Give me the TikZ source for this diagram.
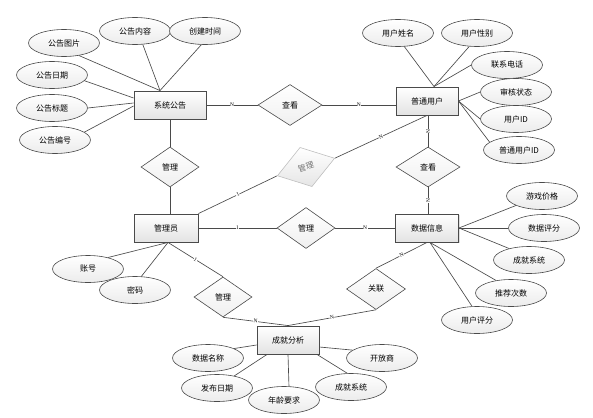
\documentclass[tikz,border=0pt]{standalone}
\usepackage{fontspec}
\setmainfont{Noto Sans CJK SC}
\newfontfamily\lblfont{Liberation Serif}
\usetikzlibrary{shapes.geometric, shadows}

\definecolor{edgegray}{HTML}{4A4A4A}
\tikzset{
  entity/.style={rectangle, draw=edgegray, line width=0.9pt, top color=white, bottom color=gray!22,
    minimum width=63pt, minimum height=28pt, inner sep=0pt,
    drop shadow={opacity=0.25, shadow xshift=1pt, shadow yshift=-1pt}},
  relation/.style={diamond, draw=edgegray, line width=0.6pt, top color=white, bottom color=gray!12,
    minimum width=60pt, minimum height=41pt, inner sep=0pt},
  attr/.style={ellipse, draw=edgegray, line width=0.6pt, top color=white, bottom color=gray!15,
    minimum width=71pt, minimum height=27pt, inner sep=0pt},
  link/.style={draw=edgegray, line width=0.65pt},
  card/.style={font=\lblfont\fontsize{5.5}{6}\selectfont, fill=white, inner sep=0.4pt, sloped}
}

\begin{document}
\begin{tikzpicture}[x=1pt, y=-1pt, font=\fontsize{8}{9}\selectfont]
  \useasboundingbox (0,0) rectangle (593,417);

  % entities
  \node[entity, minimum width=72pt] (xtgg) at (170,105) {系统公告};
  \node[entity, minimum width=62pt] (ptyh) at (427,101) {普通用户};
  \node[entity, minimum width=64pt] (gly)  at (166,228) {管理员};
  \node[entity] (sjxx) at (427,228) {数据信息};
  \node[entity, minimum width=62pt] (cjfx) at (288,340) {成就分析};

  % relations
  \node[relation, minimum width=64pt] (ckA) at (290,105) {查看};
  \node[relation, minimum width=58pt, minimum height=40pt] (glA) at (170,167) {管理};
  \node[relation, rotate=17, draw=gray!50, text=black!55, bottom color=gray!20] (glB) at (306,167) {管理};
  \node[relation, minimum width=64pt, minimum height=40pt] (ckB) at (428,167) {查看};
  \node[relation, minimum width=58pt] (glC) at (306,228) {管理};
  \node[relation, minimum width=58pt, minimum height=40pt] (glD) at (223,297) {管理};
  \node[relation, minimum width=59pt] (glE) at (376,289) {关联};

  % attributes of 系统公告
  \node[attr] (ggtp) at (64,43)  {公告图片};
  \node[attr] (ggnr) at (135,31) {公告内容};
  \node[attr] (cjsj) at (205,31) {创建时间};
  \node[attr] (ggrq) at (52,75)  {公告日期};
  \node[attr] (ggbt) at (52,108) {公告标题};
  \node[attr] (ggbh) at (55,140) {公告编号};

  % attributes of 普通用户
  \node[attr] (yhxm) at (398,33)  {用户姓名};
  \node[attr] (yhxb) at (477,33)  {用户性别};
  \node[attr] (lxdh) at (507,65)  {联系电话};
  \node[attr] (shzt) at (516,92)  {审核状态};
  \node[attr] (yhid) at (516,119) {用户ID};
  \node[attr] (ptid) at (519,150) {普通用户ID};

  % attributes of 数据信息
  \node[attr] (yxjg) at (542,196) {游戏价格};
  \node[attr] (sjpf) at (544,228) {数据评分};
  \node[attr] (cjxtA) at (529,260) {成就系统};
  \node[attr] (tjcs) at (511,293) {推荐次数};
  \node[attr] (yhpf) at (477,320) {用户评分};

  % attributes of 管理员
  \node[attr] (zh) at (88,269)  {账号};
  \node[attr] (mm) at (135,290) {密码};

  % attributes of 成就分析
  \node[attr] (sjmc) at (208,358) {数据名称};
  \node[attr] (fbrq) at (217,388) {发布日期};
  \node[attr] (nlyq) at (284,400) {年龄要求};
  \node[attr] (cjxtB) at (351,387) {成就系统};
  \node[attr] (kfs) at (382,358) {开放商};

  % attribute links
  \draw[link] (ggtp.-40) -- ([xshift=-10pt]xtgg.north);
  \draw[link] (ggnr.-60) -- ([xshift=-10pt]xtgg.north);
  \draw[link] (cjsj.-105) -- ([xshift=-10pt]xtgg.north);
  \draw[link] (ggrq.-10) -- ([yshift=7pt]xtgg.west);
  \draw[link] (ggbt.east) -- ([yshift=2pt]xtgg.west);
  \draw[link] (ggbh.15) -- ([yshift=-1pt]xtgg.west);
  \draw[link] (yhxm.-65) -- ([xshift=7pt]ptyh.north);
  \draw[link] (yhxb.-120) -- ([xshift=7pt]ptyh.north);
  \draw[link] (lxdh.west) -- ([xshift=7pt]ptyh.north);
  \draw[link] (shzt.west) -- (ptyh.east);
  \draw[link] (yhid.west) -- (ptyh.east);
  \draw[link] (ptid.165) -- (ptyh.east);
  \draw[link] (yxjg.200) -- (sjxx.east);
  \draw[link] (sjpf.west) -- (sjxx.east);
  \draw[link] (cjxtA.150) -- (sjxx.east);
  \draw[link] (tjcs.140) -- ([xshift=3pt]sjxx.south);
  \draw[link] (yhpf.110) -- ([xshift=3pt]sjxx.south);
  \draw[link] (zh.30) -- ([xshift=2pt]gly.south);
  \draw[link] (mm.65) -- ([xshift=2pt]gly.south);
  \draw[link] (sjmc.20) -- ([yshift=-5pt]cjfx.west);
  \draw[link] (fbrq.35) -- ([xshift=-21pt]cjfx.south);
  \draw[link] (nlyq.70) -- (cjfx.south);
  \draw[link] (cjxtB.105) -- ([xshift=29pt]cjfx.south);
  \draw[link] (kfs.165) -- ([yshift=-7pt]cjfx.east);

  % relation links
  \draw[link] (xtgg.east) -- node[card]{N} (ckA.west);
  \draw[link] (ckA.east) -- node[card]{N} (ckA.east -| ptyh.west);
  \draw[link] (xtgg.south -| glA.north) -- (glA.north);
  \draw[link] (glA.south) -- (glA.south |- gly.north);
  \draw[link] (gly.north east) -- node[card]{1} (glB.west);
  \draw[link] (glB.east) -- node[card]{N} (ptyh.south);
  \draw[link] (gly.east) -- node[card]{1} (glC.west);
  \draw[link] (glC.east) -- node[card]{N} (sjxx.west);
  \draw[link] (ckB.north |- ptyh.south) -- node[card]{N} (ckB.north);
  \draw[link] (ckB.south) -- node[card]{N} (ckB.south |- sjxx.north);
  \draw[link] ([xshift=2pt]gly.south) -- node[card]{1} (glD.north);
  \draw[link] (glD.south) -- node[card]{N} (cjfx.north);
  \draw[link] (sjxx.south) -- node[card]{N} (glE.north);
  \draw[link] (glE.south) -- node[card]{N} (cjfx.north);
\end{tikzpicture}
\end{document}
